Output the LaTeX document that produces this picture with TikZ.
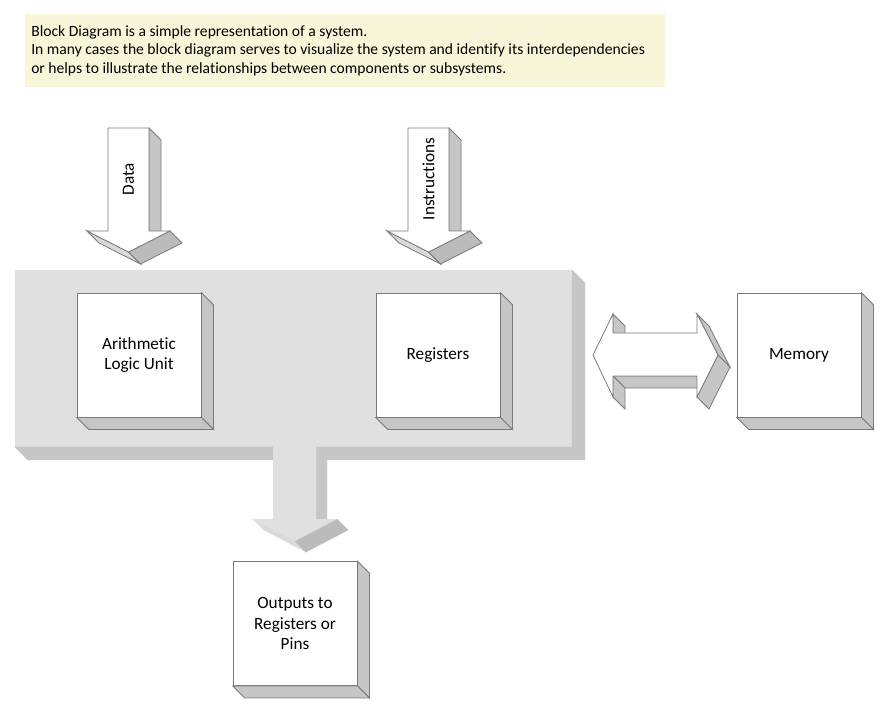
\documentclass[tikz,border=0pt]{standalone}
\usepackage{fontspec}
\setmainfont{Carlito}[Ligatures=NoCommon]
\usetikzlibrary{calc}

\definecolor{notebg}{HTML}{F8F5D9}
\definecolor{panelfront}{HTML}{E0E0E0}
\definecolor{panelside}{HTML}{C6C6C6}
\definecolor{sidegray}{HTML}{C6C6C6}
\definecolor{sidedark}{HTML}{BBBBBB}
\definecolor{sidelite}{HTML}{DADADA}
\definecolor{edgegray}{HTML}{7A7A7A}

% extruded face behind the edge #3--#4, pushed back by #2 px
\newcommand{\sideface}[4]{\filldraw[#1] #3 -- #4 -- ($#4+(#2,#2)$) -- ($#3+(#2,#2)$) -- cycle;}

\begin{document}
\begin{tikzpicture}[x=0.75pt, y=-0.75pt,
  block/.style={draw=edgegray, fill=white, line width=0.6pt, minimum width=93pt, minimum height=93pt, inner sep=0pt, align=center, font=\fontsize{12.9}{15.2}\selectfont},
  face/.style={fill=sidegray, draw=edgegray, line width=0.6pt},
  darkface/.style={face, fill=sidedark},
  liteface/.style={face, fill=sidelite},
  flat/.style={fill=#1, draw=#1, line width=0.3pt},
  arrowfront/.style={fill=white, draw=edgegray, line width=0.6pt},
  arrowtext/.style={font=\fontsize{12.9}{15.2}\selectfont}]
\useasboundingbox (0,0) rectangle (888,710);

% note
\fill[notebg] (25,14) rectangle (665,87);
\node[anchor=west, align=left, inner sep=0pt, font=\fontsize{11.7}{13.9}\selectfont] (note) at (31,50.5)
  {Block Diagram is a simple representation of a system.\\
   In many cases the block diagram serves to visualize the system and identify its interdependencies\\
   or helps to illustrate the relationships between components or subsystems.};

% processor panel
\node[fill=panelfront, minimum width=417.75pt, minimum height=132.75pt, inner sep=0pt, outer sep=0pt] (cpu) at (293.5,358.5) {};
\sideface{flat=panelside}{13}{(cpu.north east)}{(cpu.south east)}
\sideface{flat=panelside}{13}{(cpu.south east)}{(cpu.south west)}

% output arrow
\sideface{flat=sidegray}{11}{(316,447)}{(316,519)}
\sideface{flat=sidelite}{11}{(295,541)}{(253,519)}
\sideface{flat=sidedark}{11}{(337,519)}{(295,541)}
\fill[panelfront] (273,440) -- (316,440) -- (316,519) -- (337,519) -- (295,541) -- (253,519) -- (273,519) -- cycle;

% input arrows
\foreach \ax/\txt in {0/Data, 300/Instructions} {
  \sideface{face}{12}{(149+\ax,128)}{(149+\ax,231)}
  \sideface{liteface}{12}{(128.5+\ax,252)}{(87+\ax,231)}
  \sideface{darkface}{12}{(170+\ax,231)}{(128.5+\ax,252)}
  \filldraw[arrowfront] (108+\ax,128) -- (149+\ax,128) -- (149+\ax,231) -- (170+\ax,231)
    -- (128.5+\ax,252) -- (87+\ax,231) -- (108+\ax,231) -- cycle;
  \node[arrowtext, rotate=90] (in\txt) at (128.5+\ax,179) {\txt};
}

% blocks
\node[block] (alu) at (139,355) {Arithmetic\\Logic Unit};
\node[block] (regs) at (438,355) {Registers};
\node[block] (mem) at (799,355) {Memory};
\node[block] (outp) at (295,623.5) {Outputs to\\Registers or\\Pins};
\foreach \b in {alu,regs,mem,outp} {
  \sideface{face}{12}{(\b.north east)}{(\b.south east)}
  \sideface{face}{12}{(\b.south east)}{(\b.south west)}
}

% two-way arrow to memory
\sideface{face}{12}{(613,314)}{(613,333)}
\sideface{face}{12}{(697,376)}{(613,376)}
\sideface{face}{12}{(613,376)}{(613,397)}
\sideface{face}{12}{(697,314)}{(718,355)}
\sideface{face}{12}{(718,355)}{(697,397)}
\filldraw[arrowfront] (593,355) -- (613,314) -- (613,333) -- (697,333) -- (697,314) -- (718,355)
  -- (697,397) -- (697,376) -- (613,376) -- (613,397) -- cycle;
\end{tikzpicture}
\end{document}
